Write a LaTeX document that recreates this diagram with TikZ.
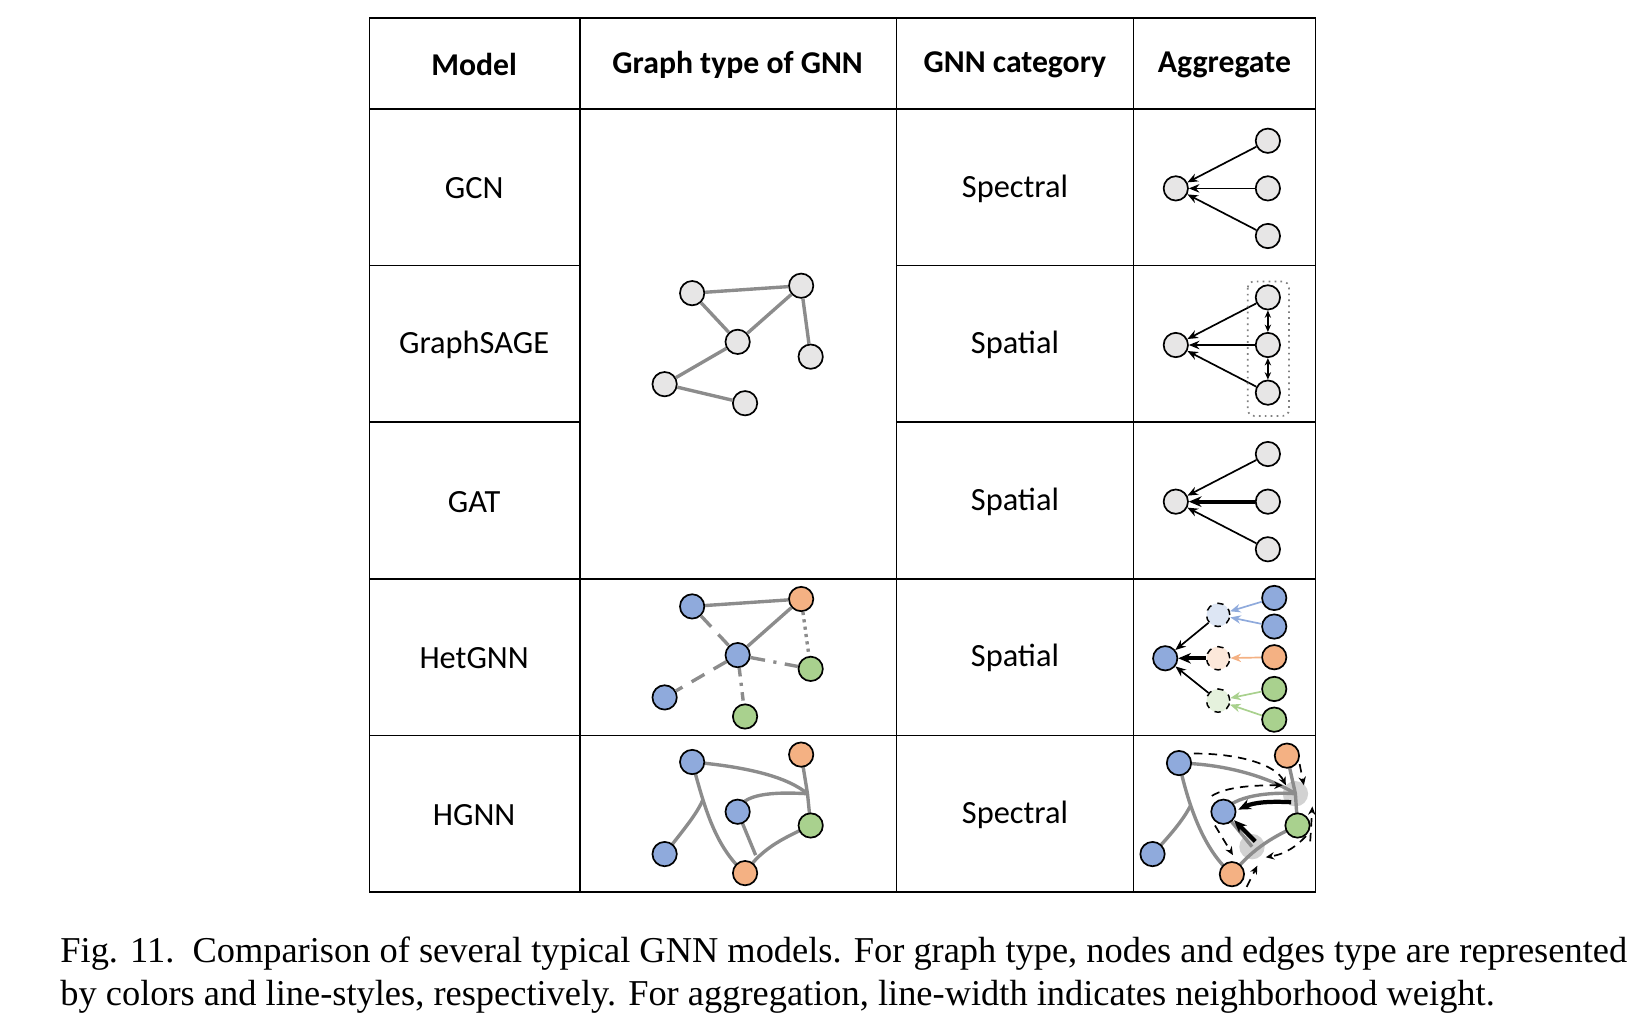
\documentclass[tikz,border=0pt]{standalone}
\usepackage{fontspec}
\setmainfont{Liberation Serif}
\newfontfamily\cellfont{Carlito}
\usetikzlibrary{arrows.meta}
\definecolor{nb}{HTML}{8FAADC}
\definecolor{no}{HTML}{F4B183}
\definecolor{ng}{HTML}{A9D18E}
\definecolor{ny}{HTML}{E7E6E6}
\definecolor{eg}{HTML}{8C8C8C}
\begin{document}
\begin{tikzpicture}[x=0.5pt,y=-0.5pt,
  cell/.style={font=\cellfont\fontsize{15.3}{17}\selectfont},
  head/.style={font=\cellfont\bfseries\fontsize{15}{17}\selectfont},
  gn/.style={circle,draw=black,line width=0.8pt,minimum size=11.5pt,inner sep=0},
  an/.style={circle,draw=black,line width=0.8pt,minimum size=11.5pt,inner sep=0},
  hn/.style={circle,draw=black,dashed,line width=0.7pt,minimum size=11pt,inner sep=0},
  ge/.style={eg,line width=1.6pt},
  ar/.style={-{Stealth[length=5pt,width=4pt]},line width=0.8pt},
  grid/.style={line width=0.8pt}]
\useasboundingbox (0,0) rectangle (1560,968);
% table grid
\draw[grid] (349,17) rectangle (1243,843);
\foreach \x in {548,847,1071} \draw[grid] (\x,17) -- (\x,843);
\draw[grid] (349,103) -- (1243,103);
\foreach \y in {251,399} {\draw[grid] (349,\y) -- (548,\y); \draw[grid] (847,\y) -- (1243,\y);}
\foreach \y in {547,695} \draw[grid] (349,\y) -- (1243,\y);
% headers
\node[head] (h1) at (448,61) {Model};
\node[head] (h2) at (697,61) {Graph type of GNN};
\node[head] (h3) at (959,61) {GNN category};
\node[head] (h4) at (1157,61) {Aggregate};
\foreach \n/\t/\y in {m1/GCN/178,m2/GraphSAGE/326,m3/GAT/474,m4/HetGNN/622,m5/HGNN/770} \node[cell] (\n) at (448,\y) {\t};
\foreach \n/\t/\y in {c1/Spectral/178,c2/Spatial/326,c3/Spatial/474,c4/Spatial/622,c5/Spectral/770} \node[cell] (\n) at (959,\y) {\t};
% homogeneous graph
\node[gn,fill=ny] (g1) at (654,277) {};
\node[gn,fill=ny] (g2) at (757,270) {};
\node[gn,fill=ny] (g3) at (697,323) {};
\node[gn,fill=ny] (g4) at (766,337) {};
\node[gn,fill=ny] (g5) at (628,363) {};
\node[gn,fill=ny] (g6) at (704,381) {};
\draw[ge] (g1)--(g2); \draw[ge] (g1)--(g3); \draw[ge] (g3)--(g2);
\draw[ge] (g2)--(g4); \draw[ge] (g3)--(g5); \draw[ge] (g5)--(g6);
% HetGNN graph
\node[gn,fill=nb] (h1n) at (654,573) {};
\node[gn,fill=no] (h2n) at (757,566) {};
\node[gn,fill=nb] (h3n) at (697,619) {};
\node[gn,fill=ng] (h4n) at (766,632) {};
\node[gn,fill=nb] (h5n) at (628,659) {};
\node[gn,fill=ng] (h6n) at (704,677) {};
\draw[ge] (h1n)--(h2n);
\draw[ge,dash pattern=on 7pt off 5pt] (h1n)--(h3n);
\draw[ge] (h3n)--(h2n);
\draw[ge,dash pattern=on 1.5pt off 2pt] (h2n)--(h4n);
\draw[ge,dash pattern=on 7pt off 4pt on 1.5pt off 4pt] (h3n)--(h4n);
\draw[ge,dash pattern=on 7pt off 5pt] (h3n)--(h5n);
\draw[ge,dash pattern=on 4pt off 3pt on 1.5pt off 3pt] (h3n)--(h6n);
% HGNN graph
\coordinate (e1) at (763,750);
\coordinate (e2) at (664,756);
\draw[ge] (654,720) .. controls (710,725) and (745,735) .. (e1);
\draw[ge] (757,713) -- (e1) -- (766,780);
\draw[ge] (697,767) .. controls (700,750) and (730,748) .. (e1);
\draw[ge] (654,720) .. controls (665,760) and (675,800) .. (704,825);
\draw[ge] (628,807) .. controls (645,785) and (658,770) .. (e2);
\draw[ge] (697,767) -- (714,808);
\draw[ge] (704,825) .. controls (720,800) and (745,790) .. (766,780);
\node[gn,fill=nb] (k1) at (654,720) {};
\node[gn,fill=no] (k2) at (757,713) {};
\node[gn,fill=nb] (k3) at (697,767) {};
\node[gn,fill=ng] (k4) at (766,780) {};
\node[gn,fill=nb] (k5) at (628,807) {};
\node[gn,fill=no] (k6) at (704,825) {};
% GCN / GraphSAGE / GAT aggregate
\foreach \r/\dy in {a/0,b/148,c/296} {
  \node[an,fill=ny] (\r0) at (1111,178+\dy) {};
  \node[an,fill=ny] (\r1) at (1198,133+\dy) {};
  \node[an,fill=ny] (\r2) at (1198,178+\dy) {};
  \node[an,fill=ny] (\r3) at (1198,223+\dy) {};
  \draw[ar] (\r1)--(\r0); \draw[ar] (\r3)--(\r0);
}
\draw[ar] (a2)--(a0); \draw[ar] (b2)--(b0);
\draw[-{Stealth[length=6pt,width=5pt]},line width=2pt] (c2)--(c0);
\draw[gray,dotted,line width=0.8pt,rounded corners=3] (1179,266) rectangle (1218,393);
\draw[{Stealth[length=3.5pt,width=3pt]}-{Stealth[length=3.5pt,width=3pt]},line width=0.6pt] (b1)--(b2);
\draw[{Stealth[length=3.5pt,width=3pt]}-{Stealth[length=3.5pt,width=3pt]},line width=0.6pt] (b2)--(b3);
% HetGNN aggregate
\node[an,fill=nb] (p0) at (1101,622) {};
\node[hn,fill=nb!30] (q1) at (1151,581) {};
\node[hn,fill=no!30] (q2) at (1151,622) {};
\node[hn,fill=ng!30] (q3) at (1151,662) {};
\node[an,fill=nb] (r1) at (1204,565) {};
\node[an,fill=nb] (r2) at (1204,592) {};
\node[an,fill=no] (r3) at (1204,621) {};
\node[an,fill=ng] (r4) at (1204,651) {};
\node[an,fill=ng] (r5) at (1204,680) {};
\draw[ar,nb] (r1)--(q1); \draw[ar,nb] (r2)--(q1);
\draw[ar,no] (r3)--(q2);
\draw[ar,ng] (r4)--(q3); \draw[ar,ng] (r5)--(q3);
\draw[ar] (q1)--(p0); \draw[ar] (q3)--(p0);
\draw[-{Stealth[length=6pt,width=5pt]},line width=2pt] (q2)--(p0);
% HGNN aggregate
\fill[ny!80!gray] (1224,750) circle (12);
\fill[ny!80!gray] (1183,800) circle (12);
\coordinate (s1) at (1224,750);
\coordinate (s2) at (1183,800);
\coordinate (s3) at (1125,761);
\draw[ge] (1114,721) .. controls (1160,722) and (1200,735) .. (s1);
\draw[ge] (1216,714) -- (s1) -- (1226,780);
\draw[ge] (1156,767) .. controls (1165,752) and (1200,748) .. (s1);
\draw[ge] (1114,721) .. controls (1125,770) and (1140,805) .. (1164,826);
\draw[ge] (1089,807) .. controls (1105,790) and (1118,775) .. (s3);
\draw[ge] (1156,767) -- (s2);
\draw[ge] (1164,826) .. controls (1185,800) and (1205,790) .. (1226,780);
\draw[-{Stealth[length=6pt,width=5pt]},line width=2pt] (1220,758) .. controls (1200,757) and (1185,758) .. (1170,765);
\draw[-{Stealth[length=6pt,width=5pt]},line width=2pt] (1186,795) -- (1166,775);
\node[an,fill=nb] (u1) at (1114,721) {};
\node[an,fill=no] (u2) at (1216,714) {};
\node[an,fill=nb] (u3) at (1156,767) {};
\node[an,fill=ng] (u4) at (1226,780) {};
\node[an,fill=nb] (u5) at (1089,807) {};
\node[an,fill=no] (u6) at (1164,826) {};
\tikzset{da/.style={-{Stealth[length=4pt,width=3.5pt]},line width=0.8pt,dash pattern=on 4pt off 3pt}}
\draw[da] (1128,712) .. controls (1170,712) and (1205,722) .. (1215,742);
\draw[da] (1145,752) .. controls (1160,743) and (1185,742) .. (1212,742);
\draw[da] (1228,722) -- (1232,742);
\draw[da] (1238,795) -- (1240,762);
\draw[da] (1234,790) .. controls (1220,805) and (1208,808) .. (1196,810);
\draw[da] (1148,780) -- (1165,808);
\draw[da] (1178,838) -- (1188,818);
% caption
\node[anchor=west,font=\fontsize{17.2}{20}\selectfont] (cap1) at (50,901) {Fig. 11.\enspace Comparison of several typical GNN models. For graph type, nodes and edges type are represented};
\node[anchor=west,font=\fontsize{17.2}{20}\selectfont] (cap2) at (50,942) {by colors and line-styles, respectively. For aggregation, line-width indicates neighborhood weight.};
\end{tikzpicture}
\end{document}
